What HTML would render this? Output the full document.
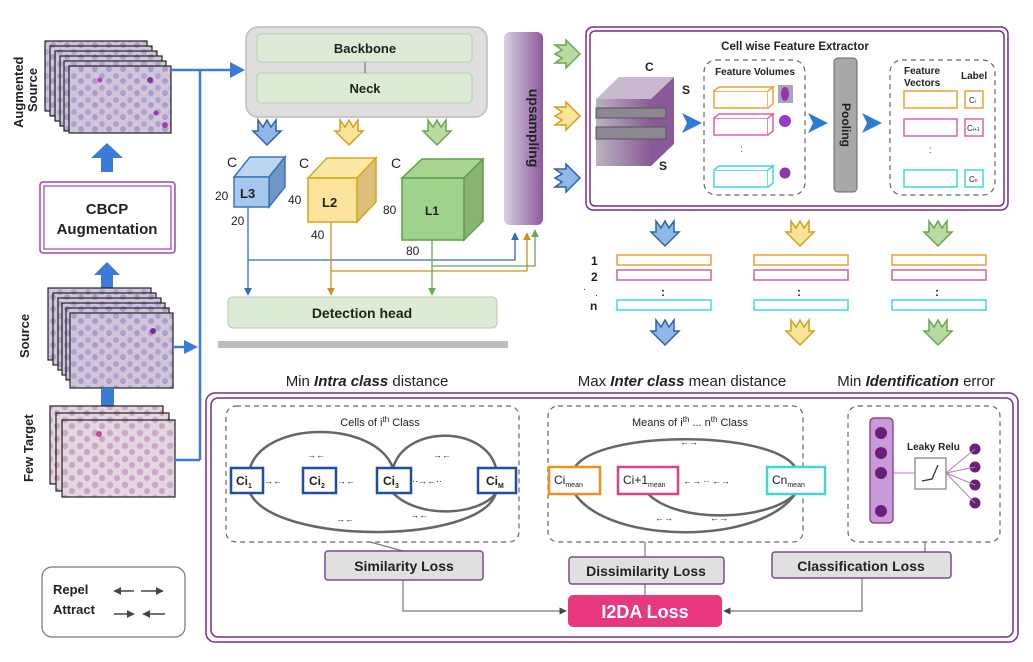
<!DOCTYPE html>
<html><head><meta charset="utf-8"><style>
body{margin:0;background:#fff}
svg{display:block;font-family:"Liberation Sans",sans-serif}
</style></head><body>
<svg width="1033" height="662" viewBox="0 0 1033 662" xmlns="http://www.w3.org/2000/svg">
<defs>
<pattern id="cells" width="14" height="12" patternUnits="userSpaceOnUse">
<rect width="14" height="12" fill="#cfc6dc"/>
<circle cx="4" cy="4" r="3" fill="#b3a3cc"/><circle cx="11" cy="9" r="3" fill="#ad9cc8"/>
</pattern>
<pattern id="cellsT" width="15" height="13" patternUnits="userSpaceOnUse">
<rect width="15" height="13" fill="#e3d6df"/>
<circle cx="5" cy="4" r="3.2" fill="#c9a9c4"/><circle cx="12" cy="10" r="3" fill="#c7a5c4"/>
</pattern>
<linearGradient id="ups" x1="0" x2="1"><stop offset="0" stop-color="#d9cfe0"/><stop offset="1" stop-color="#8c5a9c"/></linearGradient>
<linearGradient id="cubeg" x1="0" x2="1"><stop offset="0" stop-color="#b9b3bf"/><stop offset="1" stop-color="#8a5a98"/></linearGradient>
<marker id="ab" viewBox="0 0 10 10" refX="9" refY="5" markerWidth="6" markerHeight="6" orient="auto"><path d="M0 0L10 5L0 10z" fill="#2f6db5"/></marker>
<marker id="ay" viewBox="0 0 10 10" refX="9" refY="5" markerWidth="6" markerHeight="6" orient="auto"><path d="M0 0L10 5L0 10z" fill="#c9921c"/></marker>
<marker id="ag" viewBox="0 0 10 10" refX="9" refY="5" markerWidth="6" markerHeight="6" orient="auto"><path d="M0 0L10 5L0 10z" fill="#6aa653"/></marker>
<marker id="ak" viewBox="0 0 10 10" refX="9" refY="5" markerWidth="6" markerHeight="6" orient="auto-start-reverse"><path d="M0 0L10 5L0 10z" fill="#444"/></marker>
<g id="dn"><path d="M-9 -13 L-4 -6 L0 -13 L4 -6 L9 -13 L9 -2 L14 -2 L0 12 L-14 -2 L-9 -2 Z"/></g>
<g id="rt"><path d="M-13 -9 L-6 -4 L-13 0 L-6 4 L-13 9 L-2 9 L-2 14 L12 0 L-2 -14 L-2 -9 Z"/></g>
</defs>

<!-- left column -->
<text transform="translate(23,128) rotate(-90)" font-size="13" font-weight="bold" fill="#222">Augmented</text>
<text transform="translate(37,112) rotate(-90)" font-size="13" font-weight="bold" fill="#222">Source</text>
<g stroke="#222" stroke-width="1.2" fill="url(#cells)">
<rect x="45" y="41" width="102" height="70"/><rect x="50" y="46" width="102" height="70"/><rect x="55" y="51" width="102" height="70"/><rect x="60" y="56" width="102" height="70"/><rect x="64" y="61" width="102" height="70"/><rect x="69" y="66" width="102" height="67"/>
</g>
<circle cx="100" cy="80" r="2.5" fill="#c03cc8"/><circle cx="150" cy="80" r="3" fill="#8a2f9c"/><circle cx="156" cy="113" r="2.5" fill="#a82bb8"/><circle cx="165" cy="125" r="3" fill="#9a3fa8"/>
<path d="M107 143 L123 158 L113 158 L113 172 L101 172 L101 158 L91 158 Z" fill="#3b7bd6"/>
<rect x="40" y="182" width="135" height="71" rx="3" fill="#fff" stroke="#9c4aa8" stroke-width="1.5"/>
<rect x="44" y="186" width="127" height="63" fill="none" stroke="#9c4aa8" stroke-width="1.2"/>
<text x="107" y="214" font-size="15" font-weight="bold" text-anchor="middle" fill="#222">CBCP</text>
<text x="107" y="234" font-size="15" font-weight="bold" text-anchor="middle" fill="#222">Augmentation</text>
<path d="M107 262 L120 275 L113 275 L113 290 L101 290 L101 275 L94 275 Z" fill="#3b7bd6"/>
<text transform="translate(29,358) rotate(-90)" font-size="13" font-weight="bold" fill="#222">Source</text>
<g stroke="#222" stroke-width="1.2" fill="url(#cells)">
<rect x="48" y="288" width="103" height="72"/><rect x="53" y="293" width="103" height="72"/><rect x="58" y="298" width="103" height="72"/><rect x="62" y="303" width="103" height="72"/><rect x="66" y="308" width="103" height="72"/><rect x="70" y="313" width="103" height="75"/>
</g>
<circle cx="153" cy="331" r="3" fill="#7d2aa0"/>
<rect x="101" y="388" width="13" height="18" fill="#3b7bd6"/>
<text transform="translate(33,482) rotate(-90)" font-size="13" font-weight="bold" fill="#222">Few Target</text>
<g stroke="#222" stroke-width="1.2" fill="url(#cellsT)">
<rect x="50" y="406" width="113" height="78"/><rect x="56" y="413" width="113" height="78"/><rect x="62" y="420" width="113" height="77"/>
</g>
<circle cx="99" cy="434" r="3" fill="#c04a90"/>
<rect x="42" y="567" width="143" height="70" rx="10" fill="#fff" stroke="#777" stroke-width="1.2"/>
<text x="53" y="594" font-size="13" font-weight="bold" fill="#222">Repel</text>
<text x="53" y="614" font-size="13" font-weight="bold" fill="#222">Attract</text>
<g stroke="#222" stroke-width="1.3"><line x1="114" y1="591" x2="134" y2="591" marker-start="url(#ak)"/><line x1="141" y1="591" x2="163" y2="591" marker-end="url(#ak)"/>
<line x1="114" y1="614" x2="134" y2="614" marker-end="url(#ak)"/><line x1="143" y1="614" x2="165" y2="614" marker-start="url(#ak)"/></g>

<!-- blue input lines -->
<g stroke="#3b7bd6" stroke-width="2.5" fill="none">
<line x1="171" y1="70" x2="232" y2="70"/><line x1="200" y1="70" x2="200" y2="460"/>
<line x1="175" y1="460" x2="200" y2="460"/><line x1="173" y1="347" x2="185" y2="347"/>
</g>
<path d="M245 70 L230 62 L230 78 Z" fill="#3b7bd6"/><path d="M198 347 L184 340 L184 354 Z" fill="#3b7bd6"/>

<!-- backbone group -->
<rect x="246" y="27" width="241" height="90" rx="12" fill="#dedede" stroke="#bbb" stroke-width="1.5"/>
<rect x="257" y="34" width="215" height="28" rx="4" fill="#dcebd5" stroke="#b9c9b2"/>
<rect x="257" y="73" width="215" height="30" rx="4" fill="#dcebd5" stroke="#b9c9b2"/>
<line x1="365" y1="62" x2="365" y2="73" stroke="#666"/>
<text x="365" y="53" font-size="13" font-weight="bold" text-anchor="middle" fill="#222">Backbone</text>
<text x="365" y="93" font-size="13" font-weight="bold" text-anchor="middle" fill="#222">Neck</text>
<use href="#dn" x="267" y="133" fill="#8fb8e8" stroke="#2b62a8" stroke-width="1.5"/>
<use href="#dn" x="349" y="133" fill="#fbe39a" stroke="#d0a020" stroke-width="1.5"/>
<use href="#dn" x="437" y="133" fill="#b7dba0" stroke="#6aa653" stroke-width="1.5"/>

<!-- cubes -->
<g stroke-width="1.5">
<path d="M234 177 L250 157 L285 157 L269 177 Z" fill="#bcd6f0" stroke="#3a74b8"/>
<path d="M269 177 L285 157 L285 187 L269 207 Z" fill="#6f96c4" stroke="#3a74b8"/>
<rect x="234" y="177" width="35" height="30" fill="#a7c8ec" stroke="#3a74b8"/>
<path d="M308 178 L327 158 L376 158 L357 178 Z" fill="#fde8a6" stroke="#d4a520"/>
<path d="M357 178 L376 158 L376 202 L357 222 Z" fill="#dcc07a" stroke="#d4a520"/>
<rect x="308" y="178" width="49" height="44" fill="#fde49a" stroke="#d4a520"/>
<path d="M402 178 L422 159 L483 159 L464 178 Z" fill="#a8d490" stroke="#5f9e4a"/>
<path d="M464 178 L483 159 L483 221 L464 240 Z" fill="#88b373" stroke="#5f9e4a"/>
<rect x="402" y="178" width="62" height="62" fill="#9fd28a" stroke="#5f9e4a"/>
</g>
<g font-size="12" fill="#222">
<text x="227" y="167" font-size="14">C</text><text x="215" y="200">20</text><text x="231" y="225">20</text>
<text x="299" y="168" font-size="14">C</text><text x="288" y="204">40</text><text x="311" y="239">40</text>
<text x="391" y="168" font-size="14">C</text><text x="383" y="214">80</text><text x="406" y="255">80</text>
<text x="240" y="198" font-size="13" font-weight="bold">L3</text><text x="322" y="207" font-size="13" font-weight="bold">L2</text><text x="425" y="215" font-size="12" font-weight="bold">L1</text>
</g>
<g fill="none" stroke-width="1.3">
<path d="M248 207 V295" stroke="#2f6db5" marker-end="url(#ab)"/>
<path d="M248 260 H515 V233" stroke="#2f6db5" marker-end="url(#ab)"/>
<path d="M331 222 V295" stroke="#c9921c" marker-end="url(#ay)"/>
<path d="M331 271 H527 V233" stroke="#c9921c" marker-end="url(#ay)"/>
<path d="M432 240 V295" stroke="#6aa653" marker-end="url(#ag)"/>
<path d="M432 266 H535 V230" stroke="#6aa653" marker-end="url(#ag)"/>
</g>
<rect x="228" y="297" width="269" height="31" rx="5" fill="#dcebd5" stroke="#b9c9b2"/>
<text x="362" y="318" font-size="14" font-weight="bold" text-anchor="middle" fill="#222">Detection head</text>
<rect x="218" y="341" width="290" height="7" fill="#bdbdbd"/>

<!-- upsampling -->
<rect x="504" y="32" width="39" height="193" rx="6" fill="url(#ups)"/>
<text transform="translate(529,128) rotate(90)" font-size="14" font-weight="bold" text-anchor="middle" fill="#222">upsampling</text>
<use href="#rt" x="568" y="54" fill="#b7dba0" stroke="#6aa653" stroke-width="1.5"/>
<use href="#rt" x="568" y="116" fill="#fbe39a" stroke="#d0a020" stroke-width="1.5"/>
<use href="#rt" x="568" y="178" fill="#8fb8e8" stroke="#2b62a8" stroke-width="1.5"/>

<!-- cell wise feature extractor -->
<rect x="586" y="27" width="422" height="183" rx="7" fill="#fff" stroke="#7a2d8a" stroke-width="1.5"/>
<rect x="590" y="31" width="414" height="175" rx="5" fill="none" stroke="#7a2d8a" stroke-width="1.5"/>
<text x="795" y="50" font-size="11.5" font-weight="bold" text-anchor="middle" fill="#222">Cell wise Feature Extractor</text>
<path d="M596 99 L619 77 L674 77 L651 99 Z" fill="#c8b9cf"/>
<path d="M651 99 L674 77 L674 144 L651 166 Z" fill="#8a5a98"/>
<rect x="596" y="99" width="55" height="67" fill="url(#cubeg)"/>
<rect x="596" y="108" width="70" height="10" fill="#8d8791" stroke="#555"/>
<rect x="596" y="127" width="70" height="12" fill="#8d8791" stroke="#555"/>
<text x="645" y="71" font-size="12" font-weight="bold" fill="#222">C</text>
<text x="682" y="94" font-size="12" font-weight="bold" fill="#222">S</text>
<text x="659" y="170" font-size="12" font-weight="bold" fill="#222">S</text>
<path d="M682 113 L702 123 L682 133 L687 123 Z" fill="#2f7ad8"/>
<rect x="704" y="60" width="101" height="135" rx="12" fill="none" stroke="#666" stroke-dasharray="5,4" stroke-width="1.2"/>
<text x="755" y="75" font-size="10" font-weight="bold" text-anchor="middle" fill="#222">Feature Volumes</text>
<g stroke-width="1.5" fill="#fff">
<rect x="714" y="91" width="54" height="17" stroke="#f0a030"/><path d="M714 91 l5 -4 h54 l-5 4 M768 91 l5 -4 v17 l-5 4" stroke="#f0a030"/>
<rect x="714" y="118" width="54" height="17" stroke="#e060a8"/><path d="M714 118 l5 -4 h54 l-5 4 M768 118 l5 -4 v17 l-5 4" stroke="#e060a8"/>
<rect x="714" y="170" width="54" height="17" stroke="#40d8d8"/><path d="M714 170 l5 -4 h54 l-5 4 M768 170 l5 -4 v17 l-5 4" stroke="#40d8d8"/>
</g>
<rect x="778" y="85" width="15" height="18" fill="#b0a0c0"/><ellipse cx="785" cy="94" rx="4" ry="7" fill="#8a3aa0"/>
<circle cx="785" cy="121" r="6" fill="#9a3ac8"/><circle cx="785" cy="173" r="5.5" fill="#8a3aa8"/>
<text x="740" y="152" font-size="10" fill="#555">:</text>
<path d="M808 113 L828 123 L808 133 L813 123 Z" fill="#2f7ad8"/>
<rect x="834" y="58" width="23" height="134" rx="4" fill="#a8a8a8" stroke="#666"/>
<text transform="translate(842,125) rotate(90)" font-size="12" font-weight="bold" text-anchor="middle" fill="#222">Pooling</text>
<path d="M862 113 L882 123 L862 133 L867 123 Z" fill="#2f7ad8"/>
<rect x="890" y="60" width="105" height="135" rx="12" fill="none" stroke="#666" stroke-dasharray="5,4" stroke-width="1.2"/>
<text x="904" y="74" font-size="10" font-weight="bold" fill="#222">Feature</text>
<text x="904" y="86" font-size="10" font-weight="bold" fill="#222">Vectors</text>
<text x="961" y="79" font-size="10" font-weight="bold" fill="#222">Label</text>
<g fill="#fff" stroke-width="1.5">
<rect x="904" y="91" width="53" height="17" stroke="#f0a030"/><rect x="965" y="91" width="18" height="17" stroke="#f0a030"/>
<rect x="904" y="119" width="53" height="17" stroke="#e060a8"/><rect x="965" y="119" width="18" height="17" stroke="#e060a8"/>
<rect x="904" y="170" width="53" height="17" stroke="#40d8d8"/><rect x="965" y="170" width="18" height="17" stroke="#40d8d8"/>
</g>
<g font-size="8" fill="#222"><text x="969" y="103">C<tspan font-size="5">i</tspan></text><text x="967" y="131">C<tspan font-size="5">i+1</tspan></text><text x="969" y="182">C<tspan font-size="5">n</tspan></text></g>
<text x="929" y="153" font-size="10" fill="#555">:</text>

<!-- feature rows -->
<use href="#dn" x="665" y="234" fill="#8fb8e8" stroke="#2b62a8" stroke-width="1.5"/>
<use href="#dn" x="800" y="234" fill="#fbe39a" stroke="#d0a020" stroke-width="1.5"/>
<use href="#dn" x="938" y="234" fill="#b7dba0" stroke="#6aa653" stroke-width="1.5"/>
<use href="#dn" x="665" y="333" fill="#8fb8e8" stroke="#2b62a8" stroke-width="1.5"/>
<use href="#dn" x="800" y="333" fill="#fbe39a" stroke="#d0a020" stroke-width="1.5"/>
<use href="#dn" x="938" y="333" fill="#b7dba0" stroke="#6aa653" stroke-width="1.5"/>
<g fill="#fff" stroke-width="1.5">
<rect x="617" y="255" width="94" height="10" stroke="#f0a030"/><rect x="617" y="270" width="94" height="10" stroke="#d060a0"/><rect x="617" y="300" width="94" height="10" stroke="#40d8d8"/>
<rect x="754" y="255" width="94" height="10" stroke="#f0a030"/><rect x="754" y="270" width="94" height="10" stroke="#d060a0"/><rect x="754" y="300" width="94" height="10" stroke="#40d8d8"/>
<rect x="892" y="255" width="94" height="10" stroke="#f0a030"/><rect x="892" y="270" width="94" height="10" stroke="#d060a0"/><rect x="892" y="300" width="94" height="10" stroke="#40d8d8"/>
</g>
<g font-size="12" font-weight="bold" fill="#222"><text x="591" y="265">1</text><text x="591" y="281">2</text><text x="590" y="310">n</text>
<text x="661" y="296">:</text><text x="797" y="296">:</text><text x="935" y="296">:</text></g>
<text x="583" y="290" font-size="10" fill="#222">.</text><text x="595" y="296" font-size="10" fill="#222">.</text>

<!-- bottom section -->
<g font-size="15" fill="#222" text-anchor="middle">
<text x="367" y="386">Min <tspan font-weight="bold" font-style="italic">Intra class</tspan> distance</text>
<text x="682" y="386">Max <tspan font-weight="bold" font-style="italic">Inter class</tspan> mean distance</text>
<text x="916" y="386">Min <tspan font-weight="bold" font-style="italic">Identification</tspan> error</text>
</g>
<rect x="206" y="393" width="812" height="249" rx="9" fill="#fff" stroke="#7a2d8a" stroke-width="1.5"/>
<rect x="211" y="398" width="802" height="239" rx="7" fill="none" stroke="#7a2d8a" stroke-width="1.5"/>
<g fill="none" stroke="#666" stroke-dasharray="5,4" stroke-width="1.2">
<rect x="226" y="406" width="293" height="136" rx="10"/><rect x="548" y="406" width="255" height="136" rx="10"/><rect x="848" y="406" width="152" height="136" rx="10"/>
</g>
<text x="380" y="426" font-size="11" text-anchor="middle" fill="#222">Cells of i<tspan dy="-4" font-size="8">th</tspan><tspan dy="4"> Class</tspan></text>
<g fill="none" stroke="#666" stroke-width="2.5">
<path d="M250 468 C265 420 375 420 393 468"/><path d="M393 468 C405 425 485 425 496 468"/>
<path d="M250 493 C275 545 480 545 496 493"/><path d="M393 493 C420 520 480 515 496 493"/>
</g>
<g fill="#fff" stroke="#1f4fa0" stroke-width="2.5">
<rect x="231" y="468" width="32" height="25"/><rect x="303" y="468" width="33" height="25"/><rect x="377" y="468" width="34" height="25"/><rect x="478" y="468" width="38" height="25"/>
</g>
<g font-size="12" font-weight="bold" fill="#222">
<text x="236" y="485">Ci<tspan font-size="7" dy="3">1</tspan></text><text x="309" y="485">Ci<tspan font-size="7" dy="3">2</tspan></text><text x="383" y="485">Ci<tspan font-size="7" dy="3">3</tspan></text><text x="486" y="485">Ci<tspan font-size="7" dy="3">M</tspan></text>
</g>
<g font-size="9" fill="#222"><text x="264" y="484">→←</text><text x="337" y="484">→←</text><text x="412" y="484">··→←··</text>
<text x="307" y="458">→←</text><text x="433" y="458">→←</text><text x="336" y="522">→←</text><text x="410" y="518">→←</text></g>
<text x="690" y="426" font-size="11" text-anchor="middle" fill="#222">Means of i<tspan dy="-4" font-size="8">th</tspan><tspan dy="4">   ...   n</tspan><tspan dy="-4" font-size="8">th</tspan><tspan dy="4"> Class</tspan></text>
<g fill="none" stroke="#666" stroke-width="2.5">
<path d="M575 467 C600 430 770 430 795 467"/><path d="M575 494 C610 545 760 545 795 494"/><path d="M648 494 C680 525 770 520 795 494"/>
</g>
<g fill="#fff" stroke-width="2.5">
<rect x="549" y="467" width="51" height="27" stroke="#f0901c"/><rect x="618" y="467" width="60" height="27" stroke="#e0408a"/><rect x="767" y="467" width="58" height="27" stroke="#40d8d0"/>
</g>
<g font-size="12" fill="#222">
<text x="554" y="484">Ci<tspan font-size="7" dy="3">mean</tspan></text><text x="623" y="484">Ci+1<tspan font-size="7" dy="3">mean</tspan></text><text x="772" y="484">Cn<tspan font-size="7" dy="3">mean</tspan></text>
</g>
<g font-size="9" fill="#222"><text x="680" y="445">←→</text><text x="683" y="484">←→    ··    ←→</text><text x="655" y="521">←→</text><text x="710" y="521">←→</text></g>
<rect x="870" y="418" width="23" height="105" rx="4" fill="#c89ad8" stroke="#7a2d8a" stroke-width="1.2"/>
<g fill="#6a1f7a"><circle cx="881" cy="433" r="6"/><circle cx="881" cy="453" r="6"/><circle cx="881" cy="473" r="6"/><circle cx="881" cy="511" r="6"/>
<circle cx="975" cy="449" r="5.5"/><circle cx="975" cy="467" r="5.5"/><circle cx="975" cy="485" r="5.5"/><circle cx="975" cy="503" r="5.5"/></g>
<text x="881" y="495" font-size="8" fill="#888">·</text>
<g stroke="#b97ac8" stroke-width="1"><line x1="893" y1="473" x2="915" y2="473"/><line x1="946" y1="473" x2="975" y2="449"/><line x1="946" y1="473" x2="975" y2="467"/><line x1="946" y1="473" x2="975" y2="485"/><line x1="946" y1="473" x2="975" y2="503"/></g>
<rect x="915" y="458" width="31" height="31" fill="#fff" stroke="#999" stroke-width="1.5"/>
<path d="M922 481 L932 479 L938 465" fill="none" stroke="#333" stroke-width="1.3"/>
<text x="907" y="450" font-size="10" font-weight="bold" fill="#222">Leaky Relu</text>
<g stroke="#777" stroke-width="1.2" fill="none">
<line x1="370" y1="542" x2="403" y2="551"/><line x1="645" y1="542" x2="645" y2="557"/><line x1="925" y1="542" x2="925" y2="552"/>
<path d="M403 580 V611 H566" marker-end="url(#ak)"/><path d="M862 578 V611 H724" marker-end="url(#ak)"/><line x1="645" y1="584" x2="645" y2="595"/>
</g>
<g fill="#e0e0e0" stroke="#7a4a8a" stroke-width="1.5">
<rect x="325" y="551" width="158" height="29" rx="3"/><rect x="569" y="557" width="155" height="27" rx="3"/><rect x="772" y="552" width="179" height="26" rx="3"/>
</g>
<g font-size="14" font-weight="bold" fill="#222" text-anchor="middle">
<text x="404" y="571">Similarity Loss</text><text x="646" y="576">Dissimilarity Loss</text><text x="861" y="571">Classification Loss</text>
</g>
<rect x="568" y="595" width="154" height="32" rx="5" fill="#e8397f"/>
<text x="645" y="618" font-size="18" font-weight="bold" fill="#fff" text-anchor="middle">I2DA  Loss</text>
</svg>
</body></html>
